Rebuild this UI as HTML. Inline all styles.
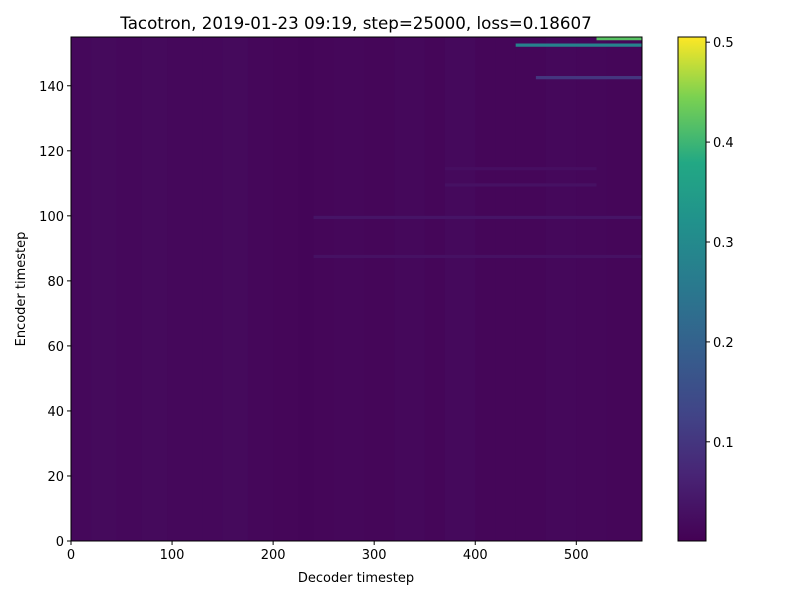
<!DOCTYPE html>
<html><head><meta charset="utf-8"><style>
body{margin:0;background:#fff;}
svg text{font-family:"DejaVu Sans","Liberation Sans",sans-serif;fill:#000;}
</style></head><body>
<svg id="chart" width="800" height="600" viewBox="0 0 800 600" xmlns="http://www.w3.org/2000/svg">
<defs>
<linearGradient id="vir" x1="0" y1="1" x2="0" y2="0">
<stop offset="0" stop-color="#440154"/><stop offset="0.13" stop-color="#482475"/><stop offset="0.25" stop-color="#414487"/><stop offset="0.38" stop-color="#355f8d"/><stop offset="0.5" stop-color="#2a788e"/><stop offset="0.63" stop-color="#21918c"/><stop offset="0.75" stop-color="#22a884"/><stop offset="0.88" stop-color="#7ad151"/><stop offset="1" stop-color="#fde725"/>
</linearGradient>
</defs>
<text x="356" y="29" font-size="16.7" text-anchor="middle">Tacotron, 2019-01-23 09:19, step=25000, loss=0.18607</text>
<g id="heat"></g>
<rect x="71" y="37" width="571" height="504" fill="none" stroke="#000" stroke-width="1"/>
<g id="axes"></g>
<text x="356" y="582" font-size="13" text-anchor="middle">Decoder timestep</text>
<text transform="translate(25,289) rotate(-90)" font-size="13" text-anchor="middle">Encoder timestep</text>
<rect x="678" y="37" width="28" height="504" fill="url(#vir)" stroke="#000" stroke-width="1"/>
<g id="cbar"></g>
</svg>
<script>
// data
const xTicks=[0,100,200,300,400,500];
const yTicks=[0,20,40,60,80,100,120,140];
const cTicks=[0.1,0.2,0.3,0.4,0.5];
const decoderLen=565, encoderLen=155;
const colStarts=[0,20,45,70,95,130,150,175,200,225,240,260,290,320,350,370,400,420,440,470,500,530];
const colValues=[0.013,0.016,0.014,0.016,0.014,0.013,0.016,0.011,0.01,0.007,0.01,0.012,0.01,0.013,0.01,0.015,0.01,0.009,0.01,0.014,0.011,0.009];
const hlRows=[154,152,142,99,87,109,114];
const hlStart=[520,440,460,240,240,370,370];
const hlEnd=[565,565,565,565,565,520,520];
const hlValues=[0.42,0.28,0.1,0.035,0.03,0.03,0.025];

const X0=71,X1=642,Y0=541,Y1=37;
const xs=v=>X0+v*(X1-X0)/decoderLen;
const ys=v=>Y0-v*(Y0-Y1)/encoderLen;
const cs=v=>541-(v-0.0007)*(504/0.5045);
const stops=[[0,[68,1,84]],[0.13,[72,36,117]],[0.25,[65,68,135]],[0.38,[53,95,141]],[0.5,[42,120,142]],[0.63,[33,145,140]],[0.75,[34,168,132]],[0.88,[122,209,81]],[1,[253,231,37]]];
function vir(v){let t=Math.max(0,Math.min(1,v/0.505));for(let i=1;i<stops.length;i++){if(t<=stops[i][0]){const a=stops[i-1],b=stops[i];const f=(t-a[0])/(b[0]-a[0]);const c=a[1].map((x,k)=>Math.round(x+(b[1][k]-x)*f));return`rgb(${c})`;}}return'#fde725';}
const NS='http://www.w3.org/2000/svg';
function mk(tag,attrs,parent){const e=document.createElementNS(NS,tag);for(const k in attrs)e.setAttribute(k,attrs[k]);parent.appendChild(e);return e;}
const heat=document.getElementById('heat');
colStarts.forEach((s,i)=>{const e=i+1<colStarts.length?colStarts[i+1]:decoderLen;
const r=mk('rect',{x:xs(s),y:Y1,width:xs(e)-xs(s)+0.5,height:Y0-Y1,fill:vir(colValues[i])},heat);

});
hlRows.forEach((row,i)=>{
const r=mk('rect',{x:xs(hlStart[i]),y:ys(row+1),width:xs(hlEnd[i])-xs(hlStart[i]),height:ys(row)-ys(row+1),fill:vir(hlValues[i])},heat);

});
const axes=document.getElementById('axes');
xTicks.forEach(v=>{const x=xs(v);
const l=mk('line',{x1:x,x2:x,y1:Y0,y2:Y0+4,stroke:'#000'},axes);


const t=mk('text',{x:x,y:Y0+18,'font-size':13,'text-anchor':'middle'},axes);t.textContent=v;

});
yTicks.forEach(v=>{const y=ys(v);
const l=mk('line',{x1:X0-4,x2:X0,y1:y,y2:y,stroke:'#000'},axes);


const t=mk('text',{x:X0-7,y:y+5,'font-size':13,'text-anchor':'end'},axes);t.textContent=v;

});
const cb=document.getElementById('cbar');
cTicks.forEach(v=>{const y=cs(v);
const l=mk('line',{x1:706,x2:710,y1:y,y2:y,stroke:'#000'},cb);


const t=mk('text',{x:713,y:y+5,'font-size':13},cb);t.textContent=v.toFixed(1);

});
</script>
</body></html>
